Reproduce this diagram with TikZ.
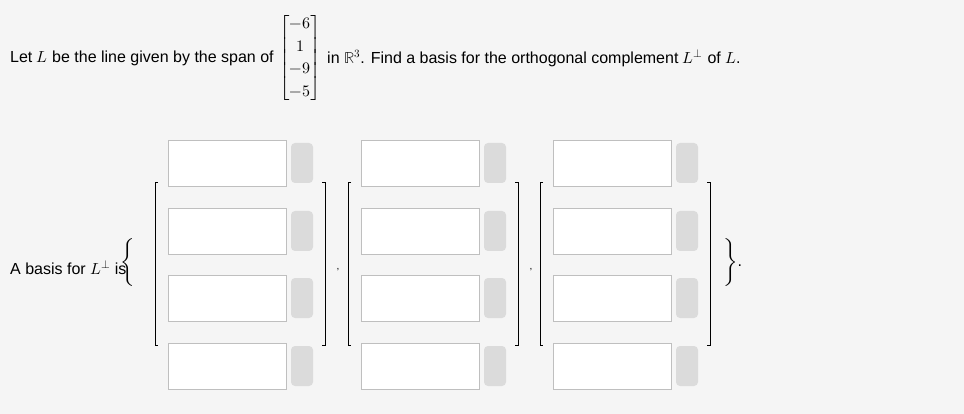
\documentclass[tikz,border=0pt]{standalone}
\usepackage{fontspec}
\setmainfont{Liberation Sans}
\usepackage{amsmath,amssymb}
\usepackage{unicode-math}
\setmathfont{Latin Modern Math}
\begin{document}
\begin{tikzpicture}[x=1pt,y=-1pt,
  inbox/.style={draw=black!25,fill=white,line width=0.8pt},
  gbox/.style={fill=black!14,rounded corners=4pt},
  brk/.style={line width=0.9pt},
  txt/.style={inner sep=0pt,anchor=west,font=\fontsize{16}{18}\selectfont}]
\useasboundingbox[fill=black!4] (0,0) rectangle (964,414);
\node[txt] (t1) at (10,58) {Let $L$ be the line given by the span of};
\node[inner sep=0pt] (m) at (300,58) {\fontsize{16}{18}\selectfont\renewcommand{\arraystretch}{1.25}$\begin{bmatrix}-6\\1\\-9\\-5\end{bmatrix}$};
\node[txt] (t2) at (327,58) {in $\mathbb{R}^3$. Find a basis for the orthogonal complement $L^{\perp}$ of $L$.};
\node[txt] (t3) at (10,268) {A basis for $L^{\perp}$ is};
\node[inner sep=0pt] (lb) at (128,262) {\fontsize{16}{18}\selectfont$\left\{\rule[-19pt]{0pt}{40pt}\right.$};
\node[inner sep=0pt] (rb) at (732,262) {\fontsize{16}{18}\selectfont$\left.\rule[-19pt]{0pt}{40pt}\right\}$.};
\foreach \c/\x in {1/168,2/361,3/553}{
  \draw[brk] (\x-10,182) -- (\x-13,182) -- (\x-13,345) -- (\x-10,345);
  \draw[brk] (\x+154,182) -- (\x+157,182) -- (\x+157,345) -- (\x+154,345);
  \foreach \r/\y in {1/140,2/208,3/275,4/343}{
    \draw[inbox] (\x,\y) rectangle (\x+118,\y+46);
    \fill[gbox] (\x+123,\y+3) rectangle (\x+145,\y+43);
  }
}
\node[inner sep=0pt] (c1) at (338,270) {,};
\node[inner sep=0pt] (c2) at (531,270) {,};
\end{tikzpicture}
\end{document}
